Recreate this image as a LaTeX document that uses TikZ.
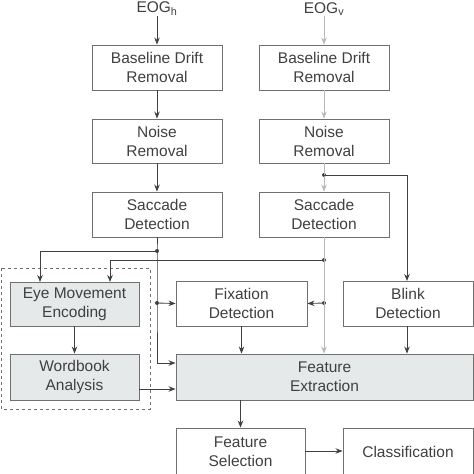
\documentclass[tikz,border=0pt]{standalone}
\usepackage{fontspec}
\setmainfont{Liberation Sans}
\usetikzlibrary{arrows.meta,calc}
\definecolor{txt}{HTML}{404040}
\definecolor{edge}{HTML}{707070}
\definecolor{dark}{HTML}{404040}
\definecolor{light}{HTML}{B8B8B8}
\definecolor{boxgray}{HTML}{E6E9E9}
\tikzset{
  proc/.style={draw=edge, line width=0.9pt, fill=white, text=txt, align=center,
    inner sep=0pt, font=\fontsize{15.5}{19}\selectfont},
  grayproc/.style={proc, fill=boxgray},
  conn/.style={draw=dark, line width=0.85pt, -{Stealth[length=7pt,width=5.5pt]}},
  lconn/.style={draw=light, line width=0.8pt, -{Stealth[length=7pt,width=5.5pt]}},
  plain/.style={draw=dark, line width=0.85pt},
  dot/.style={circle, fill=dark, inner sep=0pt, minimum size=4pt},
  lbl/.style={text=txt, font=\fontsize{15.5}{19}\selectfont, inner sep=0pt}
}
\begin{document}
\begin{tikzpicture}[x=1pt,y=-1pt]
\useasboundingbox (0,0) rectangle (474,474);
% dashed group
\draw[edge, dashed, line width=0.8pt] (1,268) rectangle (150,409);
% labels
\node[lbl] (eogh) at (157,9) {EOG\textsubscript{h}};
\node[lbl] (eogv) at (324,9) {EOG\textsubscript{v}};
% boxes
\node[proc, minimum width=130pt, minimum height=45pt] (bdl) at (157,67.5) {Baseline Drift\\Removal};
\node[proc, minimum width=130pt, minimum height=45pt] (bdr) at (324,67.5) {Baseline Drift\\Removal};
\node[proc, minimum width=130pt, minimum height=44pt] (nl) at (157,141) {Noise\\Removal};
\node[proc, minimum width=130pt, minimum height=44pt] (nr) at (324,141) {Noise\\Removal};
\node[proc, minimum width=130pt, minimum height=45pt] (sl) at (157,214.5) {Saccade\\Detection};
\node[proc, minimum width=130pt, minimum height=45pt] (sr) at (324,214.5) {Saccade\\Detection};
\node[grayproc, minimum width=129pt, minimum height=44pt] (eme) at (74.5,304) {Eye Movement\\Encoding};
\node[proc, minimum width=131pt, minimum height=45pt] (fix) at (241.5,303.5) {Fixation\\Detection};
\node[proc, minimum width=130pt, minimum height=45pt] (blink) at (408,303.5) {Blink\\Detection};
\node[grayproc, minimum width=129pt, minimum height=46pt] (wb) at (74.5,377) {Wordbook\\Analysis};
\node[grayproc, minimum width=297pt, minimum height=46pt] (fe) at (324.5,377) {Feature\\Extraction};
\node[proc, minimum width=129pt, minimum height=48pt] (fs) at (240.5,452) {Feature\\Selection};
\node[proc, minimum width=130pt, minimum height=48pt] (cl) at (408,452) {Classification};
% junctions
\node[dot] (j1) at (157,251) {};
\node[dot] (j2) at (157,303) {};
\coordinate (j3) at (157,363);
\node[dot] (r1) at (324,175) {};
\node[dot] (r2) at (324,260) {};
\node[dot] (r3) at (324,303) {};
\coordinate (e1) at (40,282);
\coordinate (e2) at (110,282);
\coordinate (b1) at (407,281);
% left chain
\draw[conn] (eogh) -- (bdl);
\draw[conn] (bdl) -- (nl);
\draw[conn] (nl) -- (sl);
\draw[plain] (sl.south) -- (j1.center) -- (j2.center) -- (j3);
\draw[conn] (j3) -- (fe.west |- j3);
\draw[conn] (j1.center) -| (e1);
\draw[conn] (j2.center) -- (fix.west);
% right chain
\draw[lconn] (eogv) -- (bdr);
\draw[lconn] (bdr) -- (nr);
\draw[lconn] (nr.south) -- (sr.north);
\draw[conn] (r1.center) -| (b1);
\draw[lconn] (sr.south) -- (fe.north -| sr.south);
\draw[conn] (r2.center) -| (e2);
\draw[conn] (r3.center) -- (fix.east);
% into feature extraction
\draw[conn] (fix.south) -- (fe.north -| fix.south);
\draw[conn] (blink.south -| b1) -- (fe.north -| b1);
\draw[conn] (eme) -- (wb);
\draw[conn] ($(wb.east)+(0,12)$) -- ($(fe.west)+(0,12)$);
\draw[conn] (fe.south -| fs.north) -- (fs.north);
\draw[conn] (fs.east |- 0,451) -- (cl.west |- 0,451);
\end{tikzpicture}
\end{document}
